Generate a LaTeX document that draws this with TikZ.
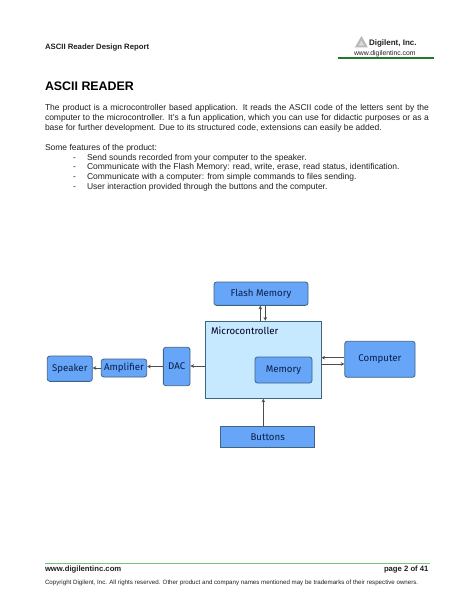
\documentclass[tikz,border=0pt]{standalone}
\usepackage{fontspec}
\setmainfont{Liberation Sans}
\newfontfamily\diag{Fira Sans}
\definecolor{boxblue}{HTML}{66A5F7}
\definecolor{microblue}{HTML}{C6E9FF}
\definecolor{edgeblue}{HTML}{3F6484}
\definecolor{inkblue}{HTML}{0B1F4A}
\definecolor{logogreen}{HTML}{1E7B2A}
\definecolor{footgreen}{HTML}{74C878}
\newcommand{\jline}[1]{\makebox[384pt][s]{#1}}
\tikzset{
  txt/.style={anchor=base west,inner sep=0pt,outer sep=0pt,text=black!88},
  body/.style={txt,font=\fontsize{8.5}{9.8}\selectfont},
  rbox/.style={draw=edgeblue,line width=0.8pt,fill=boxblue,rounded corners=2.5pt,inner sep=0pt,text=inkblue,font=\diag\fontsize{9.7}{11}\selectfont},
  sbox/.style={rbox,rounded corners=0pt},
  link/.style={draw=black!70,line width=0.6pt,-{Stealth[length=3.6pt,width=3.6pt]}},
}
\usetikzlibrary{arrows.meta,calc}
\begin{document}
\begin{tikzpicture}[x=1pt,y=-1pt]
\useasboundingbox (0,0) rectangle (474,613);
% header
\node[txt,font=\bfseries\fontsize{7.75}{9}\selectfont] (hdr) at (45,49.5) {ASCII Reader Design Report};
\fill[black!28] (355,47.3) -- (361.4,36) -- (367.8,47.3) -- cycle;
\fill[white!85!black] (358.5,45.5) -- (361.4,40.5) -- (364.3,45.5) -- cycle;
\node[txt,font=\bfseries\fontsize{8}{9}\selectfont] (co) at (369,45) {Digilent, Inc.};
\node[txt,font=\fontsize{6.85}{8}\selectfont] (web) at (354,55.5) {www.digilentinc.com};
\draw[logogreen,line width=1.1pt] (337.5,58) -- (434,58);
% title and body
\node[txt,text=black,font=\bfseries\fontsize{12.4}{14}\selectfont] (title) at (45,90.5) {ASCII READER};
\node[body] (p1) at (45,110.5) {\jline{The product is a microcontroller based application. It reads the ASCII code of the letters sent by the}};
\node[body] (p2) at (45,120.3) {\jline{computer to the microcontroller. It’s a fun application, which you can use for didactic purposes or as a}};
\node[body] (p3) at (45,130) {base for further development. Due to its structured code, extensions can easily be added.};
\node[body] (f0) at (45,150) {Some features of the product:};
\node[body] (d1) at (73,160) {-};
\node[body] (d2) at (73,169.7) {-};
\node[body] (d3) at (73,179.4) {-};
\node[body] (d4) at (73,189.1) {-};
\node[body] (f1) at (87,160) {Send sounds recorded from your computer to the speaker.};
\node[body] (f2) at (87,169.7) {Communicate with the Flash Memory: read, write, erase, read status, identification.};
\node[body] (f3) at (87,179.4) {Communicate with a computer: from simple commands to files sending.};
\node[body] (f4) at (87,189.1) {User interaction provided through the buttons and the computer.};
% diagram
\node[rbox,minimum width=45pt,minimum height=25.3pt] (speaker) at (69.8,368.7) {Speaker};
\node[rbox,minimum width=45.4pt,minimum height=18pt] (amp) at (124,368) {Amplifier};
\node[rbox,minimum width=26.7pt,minimum height=38.4pt] (dac) at (176.7,366.5) {};
\node[anchor=center,inner sep=0pt,text=inkblue,font=\diag\fontsize{9.7}{11}\selectfont] (daclabel) at (176.7,366) {DAC};
\node[sbox,fill=microblue,minimum width=115.3pt,minimum height=77.3pt] (micro) at (263.4,359.7) {};
\node[anchor=base west,inner sep=0pt,text=black!90!blue,font=\diag\fontsize{9.7}{11}\selectfont] (microlabel) at (211,334) {Microcontroller};
\node[rbox,minimum width=94pt,minimum height=23.3pt] (flash) at (261,293.7) {Flash Memory};
\node[rbox,minimum width=57pt,minimum height=26pt] (mem) at (283.5,370) {Memory};
\node[rbox,minimum width=70.3pt,minimum height=36pt] (comp) at (379.9,359.3) {Computer};
\node[sbox,minimum width=94pt,minimum height=20.6pt] (btn) at (267.7,437) {Buttons};
\draw[link] (micro.west |- 0,366) -- (dac.east |- 0,366);
\draw[link] (dac.west |- 0,366.5) -- (amp.east |- 0,366.5);
\draw[link] (amp.west |- 0,368) -- (speaker.east |- 0,368);
\draw[link] (micro.north -| 260.3,0) -- (flash.south -| 260.3,0);
\draw[link] (flash.south -| 265.3,0) -- (micro.north -| 265.3,0);
\draw[link] (comp.west |- 0,357.7) -- (micro.east |- 0,357.7);
\draw[link] (micro.east |- 0,364) -- (comp.west |- 0,364);
\draw[link] (btn.north -| 263.3,0) -- (micro.south -| 263.3,0);
% footer
\draw[footgreen,line width=0.9pt] (45,563.7) -- (430,563.7);
\node[txt,font=\bfseries\fontsize{7.7}{9}\selectfont] (furl) at (45,571.2) {www.digilentinc.com};
\node[txt,anchor=base east,font=\bfseries\fontsize{7.7}{9}\selectfont] (page) at (428.5,571.2) {page 2 of 41};
\node[txt,font=\fontsize{6.17}{8}\selectfont] (copy) at (45,584) {Copyright Digilent, Inc. All rights reserved. Other product and company names mentioned may be trademarks of their respective owners.};
\end{tikzpicture}
\end{document}
